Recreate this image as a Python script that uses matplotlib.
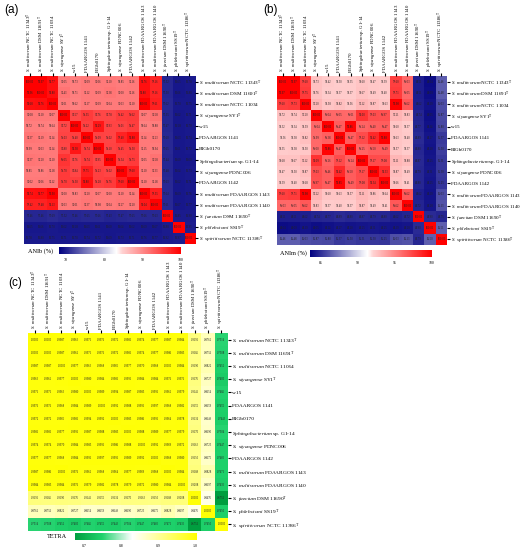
import numpy as np
import matplotlib
matplotlib.use('Agg')
from matplotlib import pyplot as plt
from matplotlib.colors import LinearSegmentedColormap

plt.rcParams['font.family'] = 'Liberation Serif'
plt.rcParams['mathtext.fontset'] = 'custom'
plt.rcParams['mathtext.rm'] = 'Liberation Serif'
plt.rcParams['mathtext.it'] = 'Liberation Serif:italic'

# strain names (rows and columns are the same)
strains = [
    r'$\mathit{S.\ multivorum}$ NCTC 11343$^{\mathrm{T}}$',
    r'$\mathit{S.\ multivorum}$ DSM 11691$^{\mathrm{T}}$',
    r'$\mathit{S.\ multivorum}$ NCTC 11034',
    r'$\mathit{S.\ siyangense}$ SY1$^{\mathrm{T}}$',
    'w15',
    'FDAARGOS 1141',
    'BIGb0170',
    r'$\mathit{Sphingobacterium}$ sp. G1-14',
    r'$\mathit{S.\ siyangense}$ PDNC006',
    'FDAARGOS 1142',
    r'$\mathit{S.\ multivorum}$ FDAARGOS 1143',
    r'$\mathit{S.\ multivorum}$ FDAARGOS 1140',
    r'$\mathit{S.\ faecium}$ DSM 11690$^{\mathrm{T}}$',
    r'$\mathit{S.\ phlebotomi}$ SS19$^{\mathrm{T}}$',
    r'$\mathit{S.\ spiritivorum}$ NCTC 11386$^{\mathrm{T}}$',
]

# ANIb (%)
anib = np.array([
    [100.00, 99.97, 98.77, 91.05, 90.73, 91.09, 91.06, 91.10, 90.85, 91.16, 98.76, 97.16, 70.52, 69.65, 69.78],
    [99.96, 100.00, 98.80, 91.43, 90.71, 91.12, 91.09, 91.38, 91.00, 91.16, 98.80, 97.16, 70.50, 69.66, 69.80],
    [98.68, 98.76, 100.00, 91.01, 90.62, 91.17, 91.09, 91.04, 91.03, 91.10, 100.00, 97.61, 70.62, 69.70, 69.75],
    [91.08, 91.10, 91.07, 100.00, 94.57, 95.55, 94.76, 94.78, 95.42, 95.62, 91.07, 91.58, 70.55, 69.62, 69.71],
    [90.72, 90.74, 90.64, 94.72, 100.00, 95.22, 98.29, 94.93, 95.01, 95.47, 90.64, 90.88, 70.47, 69.58, 69.70],
    [91.37, 91.19, 91.14, 95.03, 95.40, 100.00, 95.09, 95.02, 97.40, 98.88, 91.14, 91.23, 70.60, 69.63, 69.74],
    [90.99, 91.03, 91.14, 94.80, 98.38, 95.74, 100.00, 95.10, 95.45, 95.50, 91.15, 90.94, 70.65, 69.61, 69.72],
    [91.37, 91.20, 91.10, 96.05, 94.76, 95.74, 94.95, 100.00, 95.34, 95.75, 91.05, 91.58, 70.44, 69.60, 69.69],
    [90.85, 90.86, 91.18, 95.70, 94.84, 97.75, 95.23, 95.02, 100.00, 97.60, 91.10, 91.33, 70.48, 69.64, 69.73],
    [91.02, 91.06, 91.12, 95.70, 95.50, 98.80, 95.28, 95.76, 97.60, 100.00, 91.10, 91.18, 70.63, 69.62, 69.71],
    [98.74, 98.77, 99.90, 91.00, 90.83, 91.20, 91.07, 91.00, 91.10, 91.14, 100.00, 97.55, 70.64, 69.69, 69.76],
    [97.42, 97.48, 98.13, 91.03, 91.01, 91.37, 90.98, 91.04, 91.27, 91.20, 98.04, 100.00, 70.61, 69.67, 69.77],
    [70.46, 70.46, 70.69, 70.52, 70.46, 70.65, 70.66, 70.43, 70.47, 70.65, 70.66, 70.63, 100.00, 69.85, 69.90],
    [69.65, 69.66, 69.70, 69.62, 69.58, 69.63, 69.61, 69.60, 69.64, 69.62, 69.69, 69.67, 69.88, 100.00, 69.95],
    [69.78, 69.80, 69.75, 69.71, 69.70, 69.74, 69.72, 69.69, 69.73, 69.71, 69.76, 69.77, 69.92, 69.97, 100.00],
])

# ANIm (%)
anim = np.array([
    [100.00, 99.97, 97.60, 92.73, 92.42, 92.30, 92.35, 92.60, 92.47, 92.39, 97.60, 96.03, 84.51, 84.04, 86.46],
    [99.97, 100.00, 97.75, 92.76, 92.34, 92.37, 92.37, 92.67, 92.49, 92.40, 97.71, 96.05, 84.51, 84.09, 86.48],
    [97.60, 97.73, 100.00, 93.20, 92.58, 92.82, 92.56, 93.12, 92.87, 92.63, 99.98, 96.62, 84.62, 84.19, 86.03],
    [92.72, 92.74, 93.20, 100.00, 96.04, 96.05, 96.01, 98.00, 97.03, 96.97, 93.21, 92.83, 84.74, 84.05, 85.87],
    [92.32, 92.34, 92.59, 96.04, 100.00, 96.47, 99.86, 96.24, 96.40, 96.47, 92.60, 92.37, 84.77, 84.14, 85.80],
    [92.36, 92.38, 92.82, 95.99, 96.38, 100.00, 96.47, 97.12, 98.42, 99.88, 92.63, 92.40, 84.89, 84.27, 85.37],
    [92.35, 92.38, 92.50, 96.00, 99.86, 96.47, 100.00, 96.25, 96.50, 96.49, 92.57, 92.37, 84.80, 84.20, 85.50],
    [92.68, 92.67, 93.12, 98.09, 96.26, 97.12, 96.24, 100.00, 97.17, 97.08, 93.11, 92.88, 84.87, 84.25, 85.31],
    [92.47, 92.50, 92.87, 97.03, 96.46, 98.42, 96.50, 97.17, 100.00, 98.33, 92.87, 92.49, 84.79, 84.31, 85.30],
    [92.39, 92.40, 92.68, 96.97, 96.47, 99.85, 96.49, 97.08, 98.34, 100.00, 92.66, 92.41, 84.80, 84.25, 85.25],
    [97.60, 97.71, 99.98, 93.22, 92.60, 92.63, 92.57, 93.11, 92.86, 92.64, 100.00, 96.62, 84.62, 84.19, 86.03],
    [96.03, 96.05, 96.62, 92.83, 92.37, 92.40, 92.37, 92.87, 92.49, 92.41, 96.62, 100.00, 84.72, 84.28, 86.13],
    [84.51, 84.51, 84.62, 84.74, 84.77, 84.89, 84.80, 84.87, 84.79, 84.80, 84.62, 84.72, 100.00, 84.90, 84.75],
    [84.04, 84.09, 84.19, 84.05, 84.14, 84.27, 84.20, 84.25, 84.31, 84.25, 84.19, 84.28, 84.90, 100.00, 86.51],
    [86.46, 86.48, 86.03, 85.87, 85.80, 85.37, 85.50, 85.31, 85.30, 85.25, 86.03, 86.13, 84.79, 86.50, 100.00],
])

# TETRA
tetra = np.array([
    [1.0000, 1.0000, 0.9987, 0.9963, 0.9971, 0.9976, 0.9972, 0.9981, 0.9974, 0.9977, 0.9987, 0.9984, 0.9191, 0.8762, 0.7514],
    [1.0000, 1.0000, 0.9987, 0.9962, 0.9971, 0.9976, 0.9972, 0.9981, 0.9974, 0.9977, 0.9986, 0.9985, 0.9186, 0.8756, 0.7508],
    [0.9987, 0.9987, 1.0000, 0.9977, 0.9963, 0.9968, 0.9965, 0.9977, 0.9970, 0.9968, 1.0000, 0.9984, 0.9190, 0.8822, 0.7452],
    [0.9963, 0.9962, 0.9977, 1.0000, 0.9980, 0.9984, 0.9981, 0.9991, 0.9984, 0.9984, 0.9976, 0.9976, 0.9176, 0.8727, 0.7400],
    [0.9971, 0.9971, 0.9963, 0.9980, 1.0000, 0.9989, 0.9994, 0.9987, 0.9985, 0.9991, 0.9962, 0.9979, 0.9141, 0.8654, 0.7486],
    [0.9976, 0.9976, 0.9968, 0.9984, 0.9989, 1.0000, 0.9992, 0.9988, 0.9991, 0.9997, 0.9968, 0.9982, 0.9155, 0.8659, 0.7455],
    [0.9972, 0.9972, 0.9965, 0.9981, 0.9994, 0.9992, 1.0000, 0.9985, 0.9986, 0.9991, 0.9964, 0.9978, 0.9134, 0.8649, 0.7443],
    [0.9981, 0.9981, 0.9977, 0.9991, 0.9987, 0.9988, 0.9985, 1.0000, 0.9988, 0.9989, 0.9977, 0.9979, 0.9170, 0.8690, 0.7504],
    [0.9974, 0.9974, 0.9970, 0.9984, 0.9985, 0.9991, 0.9986, 0.9988, 1.0000, 0.9992, 0.9969, 0.9972, 0.9163, 0.8723, 0.7447],
    [0.9977, 0.9977, 0.9968, 0.9984, 0.9991, 0.9997, 0.9991, 0.9989, 0.9992, 1.0000, 0.9968, 0.9980, 0.9150, 0.8675, 0.7460],
    [0.9987, 0.9986, 1.0000, 0.9976, 0.9962, 0.9968, 0.9964, 0.9977, 0.9969, 0.9968, 1.0000, 0.9984, 0.9189, 0.8828, 0.7471],
    [0.9984, 0.9985, 0.9984, 0.9976, 0.9979, 0.9982, 0.9978, 0.9979, 0.9972, 0.9980, 0.9984, 1.0000, 0.9208, 0.8697, 0.7430],
    [0.9191, 0.9186, 0.9190, 0.9176, 0.9141, 0.9155, 0.9134, 0.9170, 0.9163, 0.9150, 0.9189, 0.9208, 1.0000, 0.8476, 0.6751],
    [0.8762, 0.8756, 0.8822, 0.8727, 0.8654, 0.8659, 0.8649, 0.8690, 0.8723, 0.8675, 0.8828, 0.8697, 0.8476, 1.0000, 0.7450],
    [0.7514, 0.7508, 0.7452, 0.7400, 0.7486, 0.7455, 0.7443, 0.7504, 0.7447, 0.7460, 0.7471, 0.7430, 0.6751, 0.7450, 1.0000],
])

anib_ticks = [70, 80, 90, 100]
anim_ticks = [85, 90, 95, 100]
tetra_ticks = [0.7, 0.8, 0.9, 1.0]

# colour maps
blue_red = LinearSegmentedColormap.from_list('br', [
    (0.0, (0.0, 0.0, 0.5)),
    (0.47, (1.0, 1.0, 1.0)),
    (0.52, (1.0, 0.82, 0.82)),
    (1.0, (1.0, 0.0, 0.0))])
green_yellow = LinearSegmentedColormap.from_list('gy', [
    (0.0, (0.0, 0.62, 0.25)),
    (0.22, (0.12, 0.82, 0.42)),
    (0.47, (1.0, 1.0, 1.0)),
    (1.0, (1.0, 1.0, 0.0))])

fig = plt.figure(figsize=(5.24, 5.5), dpi=100)


def heat(rect, data, cmap, vmin, vmax, fmt, fs_col, fs_row, fs_val):
    ax = fig.add_axes(rect)
    im = ax.imshow(data, cmap=cmap, vmin=vmin, vmax=vmax, aspect='auto',
                   interpolation='nearest')
    n = data.shape[0]
    for i in range(n):
        for j in range(n):
            ax.text(j, i, fmt % data[i, j], ha='center', va='center',
                    fontsize=fs_val, color='#222222')
    ax.set_xticks(range(n))
    ax.set_yticks(range(n))
    ax.set_xticklabels(strains, rotation=90, fontsize=fs_col)
    ax.set_yticklabels(strains, fontsize=fs_row)
    ax.xaxis.tick_top()
    ax.yaxis.tick_right()
    ax.tick_params(length=2, width=0.8, pad=1)
    for s in ax.spines.values():
        s.set_visible(False)
    return im


def cbar(im, rect, ticks, label, lab_x, lab_y):
    cax = fig.add_axes(rect)
    cb = fig.colorbar(im, cax=cax, orientation='horizontal', ticks=ticks)
    cb.outline.set_visible(False)
    cax.tick_params(labelsize=2.8, length=0, pad=3)
    fig.text(lab_x, lab_y, label, fontsize=4.5, ha='left', va='center')


W, H = 524.0, 550.0

im_a = heat([24 / W, 1 - 244 / H, 171 / W, 168 / H], anib, blue_red,
            68.2, 100, '%.2f', 3.5, 3.7, 2.1)
cbar(im_a, [59 / W, 1 - 254 / H, 122 / W, 7 / H], anib_ticks,
     'ANIb (%)', 28 / W, 1 - 251 / H)

im_b = heat([277 / W, 1 - 245 / H, 170 / W, 169 / H], anim, blue_red,
            83.6, 100, '%.2f', 3.5, 3.6, 2.1)
cbar(im_b, [310 / W, 1 - 257 / H, 122 / W, 7 / H], anim_ticks,
     'ANIm (%)', 280 / W, 1 - 253 / H)

im_c = heat([28 / W, 1 - 531 / H, 200 / W, 198 / H], tetra, green_yellow,
            0.675, 1.005, '%.4f', 3.5, 3.9, 2.1)
cbar(im_c, [75 / W, 1 - 540 / H, 122 / W, 7 / H], tetra_ticks,
     'TETRA', 47 / W, 1 - 537 / H)

for x, y, t in [(4, 10, '(a)'), (263, 10, '(b)'), (8, 283, '(c)')]:
    fig.text(x / W, 1 - y / H, t, fontsize=8.5, family='Liberation Sans',
             ha='left', va='center')

fig.savefig('out.png', dpi=100)
